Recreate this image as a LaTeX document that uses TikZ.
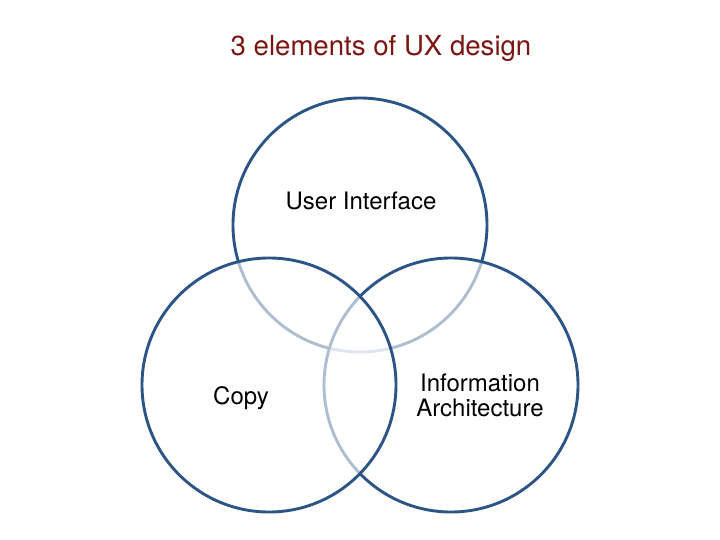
\documentclass[tikz,border=0pt]{standalone}
\usepackage{fontspec}
\setmainfont{TeX Gyre Heros}
\definecolor{ringblue}{HTML}{2C5485}
\definecolor{titlered}{HTML}{7A1512}
\tikzset{
  ring/.style={draw=ringblue,line width=2.9pt,fill=white,fill opacity=0.62},
  label/.style={font=\fontsize{24}{25}\selectfont,anchor=base,align=center}
}
\begin{document}
\begin{tikzpicture}[x=1pt,y=-1pt]
  \useasboundingbox (0,0) rectangle (720,540);
  \fill[white] (0,0) rectangle (720,540);
  \node[font=\fontsize{27.6}{32}\selectfont,text=titlered,anchor=base] (title) at (381,56) {3 elements of UX design};
  % circles: top, then right, then left
  \draw[ring] (360,225) circle[radius=127];
  \draw[ring] (451,385) circle[radius=127];
  \draw[ring] (269,385) circle[radius=127];
  \node[label] (ui) at (361,210) {User Interface};
  \node[label] (copy) at (241,404) {Copy};
  \node[label,anchor=north] (ia) at (480,370) {Information\\Architecture};
\end{tikzpicture}
\end{document}
